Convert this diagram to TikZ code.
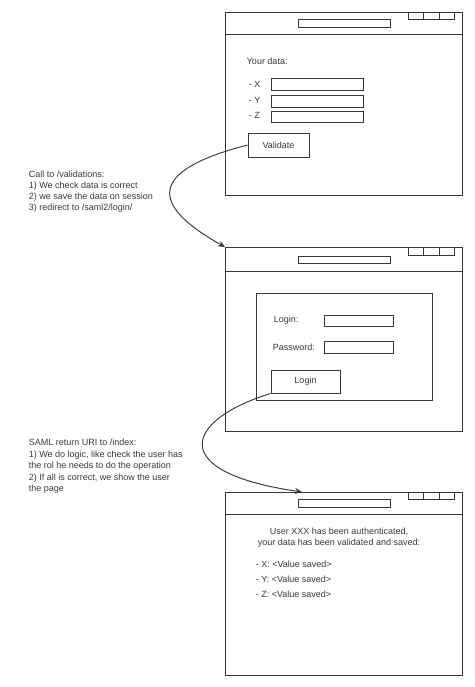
\documentclass[tikz,border=0pt]{standalone}
\usepackage{fontspec}
\setmainfont{Liberation Sans}
\usetikzlibrary{arrows.meta}
\definecolor{ink}{HTML}{383838}
\begin{document}
\begin{tikzpicture}[x=1pt,y=-1pt,line width=0.95pt,color=ink,>={Stealth[length=7pt,width=6pt]},font=\fontsize{9}{11}\selectfont]
\useasboundingbox(0,0) rectangle (474,687);
% window 1: data form
\draw(225,12)--(462,12)--(462,195)--(225,195)--cycle;
\draw(225,34)--(462,34);
\draw(298,19)--(390,19)--(390,27)--(298,27)--cycle;
\draw(408,12)--(408,19)--(454,19)--(454,12);
\draw(423,12)--(423,19);
\draw(439,12)--(439,19);
\draw(271,78)--(363,78)--(363,90)--(271,90)--cycle;
\draw(271,95)--(363,95)--(363,107)--(271,107)--cycle;
\draw(271,111)--(363,111)--(363,122)--(271,122)--cycle;
\node[anchor=west] (yourdata) at (243,61){Your data:};
\node[anchor=west] (lblx) at (245,84){- X};
\node[anchor=west] (lbly) at (245,100){- Y};
\node[anchor=west] (lblz) at (245,115){- Z};
\node[draw,minimum width=61,minimum height=24] (validate) at (278.5,145){Validate};
% window 2: login
\node[draw,anchor=north west,inner sep=0,minimum width=237,minimum height=184] (win2) at (225,247){};
\draw(225,271)--(462,271);
\draw(298,256)--(390,256)--(390,263)--(298,263)--cycle;
\draw(408,247)--(408,255)--(454,255)--(454,247);
\draw(423,247)--(423,255);
\draw(439,247)--(439,255);
\draw(256,293)--(432,293)--(432,400)--(256,400)--cycle;
\draw(324,315)--(393,315)--(393,326)--(324,326)--cycle;
\draw(324,341)--(393,341)--(393,353)--(324,353)--cycle;
\node[anchor=west] (lbllogin) at (270,320){Login:};
\node[anchor=west] (lblpass) at (269,347){Password:};
\node[draw,minimum width=69,minimum height=23] (login) at (305.5,381.5){Login};
% window 3: result
\draw(225,492)--(462,492)--(462,675)--(225,675)--cycle;
\draw(225,514)--(462,514);
\draw(298,499)--(390,499)--(390,507)--(298,507)--cycle;
\draw(408,492)--(408,499)--(454,499)--(454,492);
\draw(423,492)--(423,499);
\draw(439,492)--(439,499);
\coordinate (win3top) at (302,492);
\node[align=center] (done) at (339,537.5){User XXX has been authenticated,\\your data has been validated and saved:};
\node[anchor=west] (valx) at (252,564){- X: <Value saved>};
\node[anchor=west] (valy) at (252,579){- Y: <Value saved>};
\node[anchor=west] (valz) at (252,594){- Z: <Value saved>};
% notes and arrows
\node[anchor=west,align=left] (note1) at (25,191.5){Call to /validations:\\1) We check data is correct\\2) we save the data on session\\3) redirect to /saml2/login/};
\node[anchor=west,align=left,font=\fontsize{9}{11.5}\selectfont] (note2) at (25,466.5){SAML return URI to /index:\\1) We do logic, like check the user has\\the rol he needs to do the operation\\2) If all is correct, we show the user\\the page};
\draw[->](validate.west) .. controls (147,171) and (150,205) .. (win2.north west);
\draw[->](login.south west) .. controls (185,420) and (165,472) .. (win3top);
\end{tikzpicture}
\end{document}
